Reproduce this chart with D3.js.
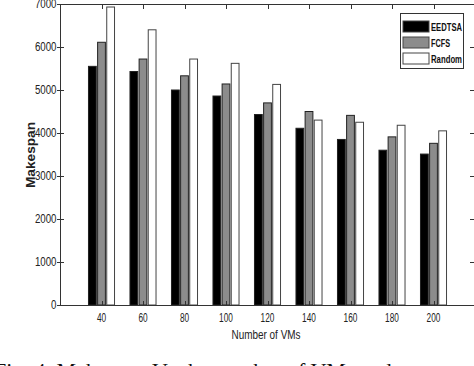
<!DOCTYPE html>
<html><head><meta charset="utf-8">
<script src="https://cdn.jsdelivr.net/npm/d3@7"></script>
<style>body{margin:0;background:#fff}svg{display:block}</style>
</head><body>
<svg id="c" width="474" height="366"></svg>
<script>
const categories = [40, 60, 80, 100, 120, 140, 160, 180, 200];
const eedtsa = [5550, 5430, 5000, 4860, 4430, 4110, 3850, 3600, 3510];
const fcfs   = [6110, 5720, 5330, 5140, 4700, 4500, 4410, 3910, 3760];
const random = [6930, 6400, 5720, 5620, 5130, 4300, 4250, 4180, 4050];
const seriesNames = ["EEDTSA", "FCFS", "Random"];
const seriesColors = ["#000000", "#8c8c8c", "#ffffff"];
const yTicks = [0, 1000, 2000, 3000, 4000, 5000, 6000, 7000];
const caption = "Fig. 4.  Makespan Vs the number of VMs and compared";

const series = [eedtsa, fcfs, random];
const svg = d3.select("#c");
const L = 60, R = 475, T = 4, B = 305;
const x = d3.scaleLinear().domain([20, 220]).range([L, R]);
const y = d3.scaleLinear().domain([0, 7000]).range([B, T]);
const step = 4.4, bw = 3.75; // data units
const narrow = "'Liberation Sans Narrow','Liberation Sans',Arial,sans-serif";

// bars
series.forEach((vals, si) => {
  svg.append("g").selectAll("rect").data(vals).join("rect")
    .attr("x", (d, i) => x(categories[i] + (si - 1) * step - bw / 2))
    .attr("width", x(bw) - x(0))
    .attr("y", d => y(d))
    .attr("height", d => y(0) - y(d))
    .attr("fill", seriesColors[si])
    .attr("stroke", si === 2 ? "#444" : "#222")
    .attr("stroke-width", 1);
});

// axes
const ax = svg.append("g").attr("stroke", "#333").attr("fill", "none").attr("stroke-width", 1);
ax.append("line").attr("x1", L).attr("x2", R).attr("y1", T + 0.5).attr("y2", T + 0.5);
ax.append("line").attr("x1", L).attr("x2", R).attr("y1", B + 0.5).attr("y2", B + 0.5);
ax.append("line").attr("x1", L + 0.5).attr("x2", L + 0.5).attr("y1", T).attr("y2", B + 1);
ax.append("line").attr("x1", R - 0.5).attr("x2", R - 0.5).attr("y1", T).attr("y2", B + 1);

yTicks.forEach(t => {
  const yy = Math.round(y(t)) + 0.5;
  ax.append("line").attr("x1", L - 3).attr("x2", L + 4).attr("y1", yy).attr("y2", yy);
  ax.append("line").attr("x1", R - 5).attr("x2", R).attr("y1", yy).attr("y2", yy);
});
categories.forEach(c => {
  const xx = Math.round(x(c)) + 0.5;
  ax.append("line").attr("x1", xx).attr("x2", xx).attr("y1", T).attr("y2", T + 5);
  ax.append("line").attr("x1", xx).attr("x2", xx).attr("y1", B - 4).attr("y2", B);
});

// tick labels
svg.append("g").selectAll("text").data(yTicks).join("text")
  .attr("x", 56.5).attr("y", d => y(d) + 4)
  .attr("text-anchor", "end")
  .attr("font-family", narrow).attr("font-size", 12).attr("fill", "#222")
  .attr("textLength", d => String(d).length * 5.4).attr("lengthAdjust", "spacingAndGlyphs")
  .text(d => d);
svg.append("g").selectAll("text").data(categories).join("text")
  .attr("x", d => x(d)).attr("y", 322)
  .attr("text-anchor", "middle")
  .attr("font-family", narrow).attr("font-size", 12).attr("fill", "#222")
  .attr("textLength", d => String(d).length * 4.6).attr("lengthAdjust", "spacingAndGlyphs")
  .text(d => d);

// axis titles
svg.append("text").attr("x", 266).attr("y", 339).attr("text-anchor", "middle")
  .attr("font-family", narrow).attr("font-size", 13).attr("fill", "#222")
  .attr("textLength", 69).attr("lengthAdjust", "spacingAndGlyphs")
  .text("Number of VMs");
svg.append("text").attr("transform", "translate(35,155) rotate(-90)").attr("text-anchor", "middle")
  .attr("font-family", "'Liberation Sans',Arial,sans-serif").attr("font-weight", "bold").attr("font-size", 12).attr("fill", "#222")
  .attr("textLength", 66).attr("lengthAdjust", "spacingAndGlyphs")
  .text("Makespan");

// legend
const lg = svg.append("g");
lg.append("rect").attr("x", 400.5).attr("y", 13.5).attr("width", 63).attr("height", 55)
  .attr("fill", "#fff").attr("stroke", "#333");
seriesNames.forEach((n, i) => {
  const yy = 21 + i * 16;
  lg.append("rect").attr("x", 403).attr("y", yy).attr("width", 26).attr("height", 11)
    .attr("fill", seriesColors[i]).attr("stroke", "#444");
  lg.append("text").attr("x", 431).attr("y", yy + 10)
    .attr("font-family", narrow).attr("font-weight", "bold").attr("font-size", 11).attr("fill", "#111")
    .attr("textLength", [31, 19, 31][i]).attr("lengthAdjust", "spacingAndGlyphs")
    .text(n);
});

// caption (cut off at bottom, as in the reference)
svg.append("text").attr("x", -6).attr("y", 378)
  .attr("font-family", "'Liberation Serif','Times New Roman',serif").attr("font-size", 22).attr("fill", "#111")
  .attr("textLength", 490).attr("lengthAdjust", "spacing")
  .text(caption);
</script>
</body></html>
